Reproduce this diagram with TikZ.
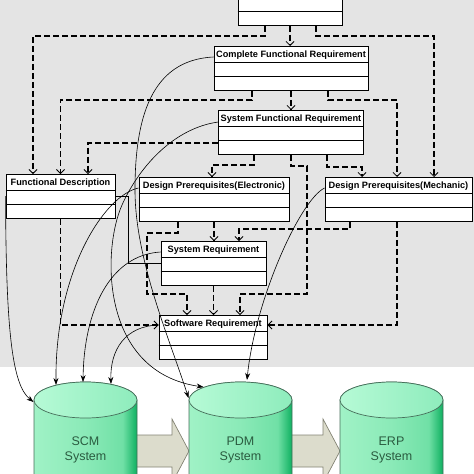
\documentclass[tikz,border=0pt]{standalone}
\usepackage{fontspec}
\setmainfont{Liberation Sans}
\usetikzlibrary{arrows.meta, calc}

\definecolor{panelgray}{RGB}{228,228,228}
\definecolor{dbtop}{RGB}{182,250,214}
\definecolor{dbtopdark}{RGB}{142,236,188}
\definecolor{dblight}{RGB}{160,242,198}
\definecolor{dbmid}{RGB}{112,224,166}
\definecolor{dbdark}{RGB}{14,176,96}
\definecolor{dbline}{RGB}{70,110,90}
\definecolor{dbtext}{RGB}{42,92,64}
\definecolor{arrowfill}{RGB}{220,220,204}
\definecolor{arrowline}{RGB}{130,130,115}

\pgfdeclarehorizontalshading{dbshade}{100bp}{color(0bp)=(dblight); color(25bp)=(dblight); color(50bp)=(dbmid!45!dblight); color(68bp)=(dbmid); color(75bp)=(dbdark); color(100bp)=(dbdark)}

\begin{document}
\begin{tikzpicture}[x=1pt, y=-1pt,
    classbox/.style={draw, fill=white, line width=0.9pt, anchor=north, inner xsep=2pt, inner ysep=0pt, minimum height=44pt, text height=11pt, text depth=33pt, font=\bfseries\fontsize{9.2}{10}\selectfont},
    classline/.style={line width=0.9pt},
    flow/.style={line width=1.6pt, dash pattern=on 6pt off 3pt, -{Straight Barb[length=4pt, width=8pt, line width=0.8pt]}},
    assoc/.style={line width=0.9pt},
    link/.style={line width=0.6pt, -{Stealth[length=7pt, width=5pt]}},
    bigarrow/.style={fill=arrowfill, draw=arrowline, line width=0.7pt},
    dblabel/.style={align=center, inner sep=0pt, text=dbtext, font=\fontsize{12.5}{15.5}\selectfont}
]

% Background
\useasboundingbox (0,0) rectangle (474,474);
\fill[panelgray] (0,0) rectangle (474,367);

% Systems
\coordinate (scm top) at (85.5,400);
\coordinate (pdm top) at (240.5,400);
\draw[bigarrow] (scm top) ++(45,35) -- ++(41.5,0) -- ++(0,-16) -- ++(17,32) -- ++(-17,32) -- ++(0,-16) -- ++(-41.5,0) -- cycle;
\draw[bigarrow] (pdm top) ++(45,35) -- ++(37.5,0) -- ++(0,-16) -- ++(17,32) -- ++(-17,32) -- ++(0,-16) -- ++(-37.5,0) -- cycle;
\foreach \db/\cx/\name in {scm/85.5/SCM, pdm/240.5/PDM, erp/391.5/ERP} {
  \shade[shading=dbshade, draw=dbline, line width=0.7pt] (\cx-51.5,490) -- (\cx-51.5,400) arc[start angle=180, end angle=360, x radius=51.5, y radius=18] -- (\cx+51.5,490);
  \shade[left color=dbtop, right color=dbtopdark, draw=dbline, line width=0.7pt] (\cx,400) ellipse[x radius=51.5, y radius=18];
  \node[dblabel] (\db) at (\cx,450) {\name\\System};
}

% Classes
\node[classbox, minimum width=104pt] (toplevel) at (290,-19) {};
\node[classbox, minimum width=154pt] (completefr) at (291,46) {Complete Functional Requirement};
\node[classbox, minimum width=144pt] (systemfr) at (291,110) {System Functional Requirement};
\node[classbox, minimum width=109pt] (funcdesc) at (60.5,174) {Functional Description};
\node[classbox, minimum width=150pt] (prereqe) at (214,177) {Design Prerequisites(Electronic)};
\node[classbox, minimum width=147pt] (prereqm) at (398.5,177) {Design Prerequisites(Mechanic)};
\node[classbox, minimum width=105pt] (sysreq) at (213.5,241) {System Requirement};
\node[classbox, minimum width=108pt] (swreq) at (213,315) {Software Requirement};
\foreach \b in {toplevel, completefr, systemfr, funcdesc, prereqe, prereqm, sysreq, swreq}
  \draw[classline] ([yshift=-16pt]\b.north west) -- ([yshift=-16pt]\b.north east)
                   ([yshift=-30pt]\b.north west) -- ([yshift=-30pt]\b.north east);

% Dependencies
\draw[flow] (toplevel.south) -- (toplevel.south |- completefr.north);
\draw[flow] ([xshift=-25pt]toplevel.south) -- ++(0,10) -| ([xshift=-27.5pt]funcdesc.north);
\draw[flow] ([xshift=26pt]toplevel.south) -- ++(0,10) -| ([xshift=35.5pt]prereqm.north);
\draw[flow] (completefr.south) -- (completefr.south |- systemfr.north);
\draw[flow] ([xshift=-39pt]completefr.south) -- ++(0,9) -| (funcdesc.north);
\draw[flow] ([xshift=37pt]completefr.south) -- ++(0,9) -| ([xshift=-1.5pt]prereqm.north);
\draw[flow] ([yshift=-33pt]systemfr.north west) -| ([xshift=27.5pt]funcdesc.north);
\draw[flow] ([xshift=-37pt]systemfr.south) -- ++(0,10) -| ([xshift=-2pt]prereqe.north);
\draw[flow] ([xshift=36pt]systemfr.south) -- ++(0,12) -| ([xshift=-36.5pt]prereqm.north);
\draw[flow] (systemfr.south) -- ++(0,11) -- ++(16,0) -- ++(0,128) -| ([xshift=27pt]swreq.north);
\draw[flow] (prereqe.south) -- (prereqe.south |- sysreq.north);
\draw[flow] ([xshift=-36pt]prereqe.south) -- ++(0,11) -- ++(-31,0) -- ++(0,61) -| ([xshift=-26pt]swreq.north);
\draw[flow] ([xshift=-48.5pt]prereqm.south) -- ++(0,7) -| ([xshift=25.5pt]sysreq.north);
\draw[flow] (sysreq.south) -- (sysreq.south |- swreq.north);
\draw[flow] (funcdesc.south) |- ([yshift=-10pt]swreq.north west);
\draw[flow] ([xshift=-1.5pt]prereqm.south) |- ([yshift=-10pt]swreq.north east);
\draw[assoc] ([yshift=-22pt]funcdesc.north east) -- ++(13,0) |- ([yshift=-22pt]sysreq.north west);

% Links to systems
\draw[link] ([yshift=-22pt]funcdesc.north west) .. controls (6,330) and (12,385) .. ($(scm top)+(-52,2)$);
\draw[link] ([yshift=-11pt]prereqe.north west) .. controls (105,195) and (55,270) .. ($(scm top)+(-29.5,-15)$);
\draw[link] ([yshift=-11pt]sysreq.north west) .. controls (110,255) and (84,310) .. ($(scm top)+(-2.5,-18)$);
\draw[link] ([yshift=-10pt]swreq.north west) .. controls (125,326) and (110,350) .. ($(scm top)+(25.5,-16)$);
\draw[link] ([yshift=-11pt]completefr.north west) .. controls (150,60) and (135,120) .. (135,190) .. controls (135,260) and (170,340) .. ($(pdm top)+(-52,-2)$);
\draw[link] ([yshift=-12pt]systemfr.north west) .. controls (175,128) and (140,165) .. (122,205) .. controls (102,250) and (100,372) .. ($(pdm top)+(-37,-13)$);
\draw[link] ([yshift=-11pt]prereqm.north west) .. controls (300,200) and (255,300) .. ($(pdm top)+(6.5,-20)$);

\end{tikzpicture}
\end{document}
